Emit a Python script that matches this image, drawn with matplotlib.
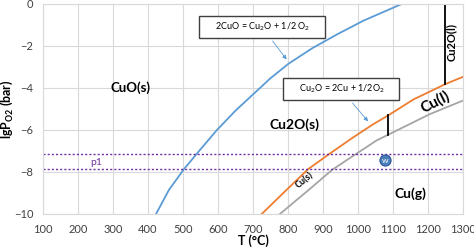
from matplotlib import pyplot as plt

plt.rcParams['font.family'] = ['Lato', 'DejaVu Sans']
plt.rcParams['mathtext.default'] = 'regular'

# data
t_cuo = [423, 460, 503, 539, 596, 650, 720, 749, 801, 870, 940, 1015, 1070, 1125]
lgp_cuo = [-10, -8.85, -7.86, -7.14, -6.02, -5.08, -4.0, -3.55, -2.85, -2.1, -1.45, -0.8, -0.4, 0]

t_cu2o = [725, 796, 858, 920, 982, 1044, 1087, 1158, 1249, 1300]
lgp_cu2o = [-10, -8.85, -7.86, -7.12, -6.4, -5.72, -5.3, -4.55, -3.82, -3.47]

t_cu = [777, 863, 926, 991, 1053, 1087, 1206, 1300]
lgp_cu = [-10, -8.8, -7.9, -7.18, -6.5, -6.22, -5.24, -4.6]

p1_levels = [-7.14, -7.84]
w_point = (1077, -7.44)
melt_cu = (1087, -5.3, -6.22)
melt_cu2o = (1249, 0, -3.82)

x_ticks = list(range(100, 1301, 100))
y_ticks = list(range(-10, 1, 2))

fig = plt.figure(figsize=(4.74, 2.49), dpi=100)
ax = fig.add_axes([0.0907, 0.1406, 0.886, 0.8434])

# phase boundaries
ax.plot(t_cuo, lgp_cuo, color='#5B9BD5', lw=1.3)
ax.plot(t_cu2o, lgp_cu2o, color='#ED7D31', lw=1.3)
ax.plot(t_cu, lgp_cu, color='#A5A5A5', lw=1.3)

# melting points
ax.plot([melt_cu[0], melt_cu[0]], melt_cu[1:], color='black', lw=1.3)
ax.plot([melt_cu2o[0], melt_cu2o[0]], melt_cu2o[1:], color='black', lw=1.3)

# p1 band
for lvl in p1_levels:
    ax.axhline(lvl, color='#7030A0', lw=1, linestyle=(0, (1.5, 1.5)))
ax.text(251, -7.55, 'p1', color='#7030A0', fontsize=7.5, ha='center', va='center')

# working point
ax.plot(*w_point, 'o', ms=8, color='#4A7EBB', mec='#2F5597', mew=0.8)
ax.text(w_point[0], w_point[1], 'w', color='white', fontsize=6, ha='center', va='center')

# phase labels
ax.text(351, -4.0, 'CuO(s)', fontsize=9.5, fontweight='bold', ha='center', va='center')
ax.text(818, -5.77, 'Cu2O(s)', fontsize=10, fontweight='bold', ha='center', va='center')
ax.text(1220, -4.66, 'Cu(l)', fontsize=11, fontweight='bold', ha='center', va='center', rotation=27)
ax.text(849, -8.39, 'Cu(s)', fontsize=6.5, fontweight='bold', ha='center', va='center', rotation=40)
ax.text(1149, -9.03, 'Cu(g)', fontsize=10, fontweight='bold', ha='center', va='center')
ax.text(1268, -1.8, 'Cu2O(l)', fontsize=8, fontweight='bold', ha='center', va='center', rotation=90)

# reaction boxes
box = dict(boxstyle='square,pad=0.55', fc='white', ec='#404040', lw=1)
arrow = dict(arrowstyle='-|>', color='#5B9BD5', lw=0.6, mutation_scale=6)
ax.annotate('     2CuO = Cu$_2$O + 1/2 O$_2$     ', xy=(801, -2.75), xytext=(726, -1.1),
            fontsize=6.5, ha='center', va='center', bbox=box, arrowprops=arrow)
ax.annotate('     Cu$_2$O = 2Cu + 1/2O$_2$     ', xy=(1034, -5.69), xytext=(951, -4.06),
            fontsize=6.5, ha='center', va='center', bbox=box, arrowprops=arrow)

ax.set_xlim(100, 1300)
ax.set_ylim(-10, 0)
ax.set_xticks(x_ticks)
ax.set_yticks(y_ticks)
ax.tick_params(length=0, labelsize=8, labelcolor='#404040', pad=7)
ax.grid(color='#D9D9D9', lw=0.8)
ax.set_axisbelow(True)
for s in ax.spines.values():
    s.set_color('#D9D9D9')
    s.set_linewidth(0.8)

ax.set_xlabel('T (°C)', fontsize=9, fontweight='bold', labelpad=0)
ax.set_ylabel('lgP$_{O2}$ (bar)', fontsize=9, fontweight='bold')
ax.yaxis.set_label_coords(-0.066, 0.5)

plt.savefig('out.png')
